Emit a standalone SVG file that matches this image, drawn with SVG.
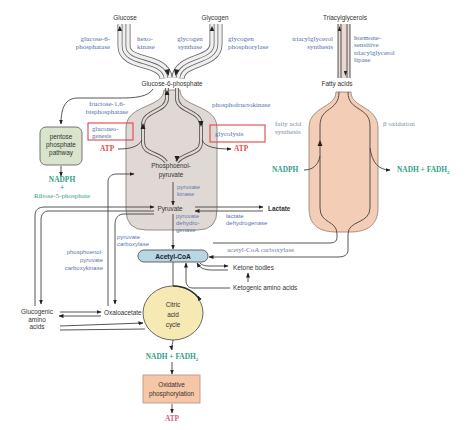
<svg xmlns="http://www.w3.org/2000/svg" width="474" height="430" viewBox="0 0 474 430">
<style>
.t{font-family:"Liberation Sans",Arial,sans-serif;font-size:6.4px;fill:#333}
.b{font-family:"Liberation Serif","Times New Roman",serif;font-size:7px;fill:#4f6fa8}
.bs{font-family:"Liberation Sans",Arial,sans-serif;font-size:6px;fill:#5a78b0}
.g{font-family:"Liberation Serif","Times New Roman",serif;font-size:7.4px;fill:#2f9f86;font-weight:bold}
.r{font-family:"Liberation Serif","Times New Roman",serif;font-size:7.4px;fill:#e0504a;font-weight:bold}
.ln{fill:none;stroke:#444;stroke-width:0.9}
.to{fill:none;stroke:#555;stroke-width:4}
.ti{fill:none;stroke:#e0d8d4;stroke-width:2.3}
.ah{fill:#222}
</style>
<defs>
<marker id="a" viewBox="0 0 10 10" refX="9" refY="5" markerWidth="5" markerHeight="5" markerUnits="userSpaceOnUse" orient="auto"><path d="M0,1 L10,5 L0,9 z" fill="#222"/></marker>
</defs>

<g id="glucose-channel">
<path d="M124,24 L124,46 C124,66 164,58 166,78" fill="none" stroke="#666" stroke-width="13"/>
<path d="M124,24 L124,46 C124,66 164,58 166,78" fill="none" stroke="#efefef" stroke-width="11.4"/>
<path d="M124,24 L124,46 C124,66 164,58 166,78" fill="none" stroke="#666" stroke-width="4.6"/>
<path d="M124,24 L124,46 C124,66 164,58 166,78" fill="none" stroke="#efefef" stroke-width="3"/>
<path class="ah" d="M117.5,31 L119.8,26 L122.1,31 z"/>
</g>
<g id="glycogen-channel">
<path d="M216,24 L216,44 C216,64 180,58 178,78" fill="none" stroke="#666" stroke-width="13"/>
<path d="M216,24 L216,44 C216,64 180,58 178,78" fill="none" stroke="#efefef" stroke-width="11.4"/>
<path d="M216,24 L216,44 C216,64 180,58 178,78" fill="none" stroke="#666" stroke-width="4.6"/>
<path d="M216,24 L216,44 C216,64 180,58 178,78" fill="none" stroke="#efefef" stroke-width="3"/>
<path class="ah" d="M209.7,31 L212,26 L214.3,31 z"/>
<path class="ah" d="M164.5,70 L168.5,76 L170,69 z"/>
<path class="ah" d="M174,69 L175.5,76 L179.5,70 z"/>
</g>
<g id="tag-channel">
<rect x="338" y="24" width="12" height="54" fill="#ead9d0"/>
<path d="M338,24 V78 M341,24 V78 M347,24 V78 M350,24 V78" class="ln" stroke="#666"/>
<path class="ah" d="M337.8,31 L339.5,26 L341.2,31 z"/>
<path class="ah" d="M343.8,71 L345.5,76 L347.2,71 z"/>
</g>

<g id="glycolysis-body">
<path d="M164,90 C164,108 126,104 126,128 L126,210 Q126,230 146,230 L198,230 Q217,230 217,210 L217,128 C217,104 180,108 180,90 Z" fill="#e0d8d4" stroke="#8a8380" stroke-width="0.9"/>
<path class="to" d="M167,88 L167,98 C167,112 143,110 143,125 L143,142 C143,155 160,152 166,162"/>
<path class="ti" d="M167,88 L167,98 C167,112 143,110 143,125 L143,142 C143,155 160,152 166,162"/>
<path class="to" d="M177,88 L177,98 C177,112 201,110 201,125 L201,142 C201,155 184,152 177,162"/>
<path class="ti" d="M177,88 L177,98 C177,112 201,110 201,125 L201,142 C201,155 184,152 177,162"/>
<path class="ah" d="M140.5,129 L143,123 L145.5,129 z"/>
<path class="ah" d="M198.5,121 L201,127 L203.5,121 z"/>
<path class="ah" d="M164.5,95 L167,90 L169.5,95 z"/>
<path class="ah" d="M174.5,156 L177,162 L179.5,156 z"/>
</g>

<g id="fatty-acid-body">
<path d="M336,92 C336,108 309,106 309,128 L309,208 C309,226 320,232 337,232 L350,232 C366,232 378,226 378,208 L378,128 C378,106 351,108 351,92 Z" fill="#f3cdb6" stroke="#9a8a80" stroke-width="0.9"/>
<path d="M339,92 C339,112 320,106 320,126 L320,208 C320,224 337,220 337,234 L337,237 C337,242 334,243 328,243 L213,243" class="ln"/>
<path d="M348,92 C348,112 370,106 370,126 L370,208 C370,224 348,220 348,234 L348,250 C348,255 344,257 338,257 L209,257" class="ln" marker-end="url(#a)"/>
<path class="ah" d="M317.5,146 L320,140 L322.5,146 z"/>
<path d="M304,170 C312,170 318,166 320,156" class="ln"/>
<path d="M370,148 C372,162 378,170 390,170" class="ln" marker-end="url(#a)"/>
</g>

<g id="pentose">
<rect x="40" y="127" width="42" height="38" rx="6" fill="#d8e4cb" stroke="#666" stroke-width="0.9"/>
<text class="t" x="61" y="139" text-anchor="middle">pentose</text>
<text class="t" x="61" y="147" text-anchor="middle">phosphate</text>
<text class="t" x="61" y="155" text-anchor="middle">pathway</text>
</g>

<g id="gluconeogenesis-box">
<rect x="88" y="123" width="45" height="17" fill="none" stroke="#e04848" stroke-width="1.1"/>
<text class="b" x="92" y="130.5" style="font-size:6.6px">gluconeo-</text>
<text class="b" x="92" y="137.5" style="font-size:6.6px">genesis</text>
</g>
<g id="glycolysis-box">
<rect x="210" y="125" width="55" height="17" fill="none" stroke="#e04848" stroke-width="1.1"/>
<text class="b" x="215" y="136">glycolysis</text>
</g>

<g id="acetyl-coa">
<rect x="138" y="250" width="70" height="12" rx="6" fill="#b8d6e4" stroke="#555" stroke-width="0.9"/>
<text x="173" y="258.5" text-anchor="middle" style="font-family:'Liberation Sans',Arial,sans-serif;font-size:6.6px;font-weight:bold;fill:#222">Acetyl-CoA</text>
</g>

<g id="citric-cycle">
<ellipse cx="173" cy="313" rx="30" ry="27" fill="#f6e9b3" stroke="#666" stroke-width="1"/>
<path d="M173,286 A30,27 0 0 1 200,300" fill="none" stroke="#333" stroke-width="1.3"/>
<text class="t" x="173" y="307" text-anchor="middle">Citric</text>
<text class="t" x="173" y="317" text-anchor="middle">acid</text>
<text class="t" x="173" y="327" text-anchor="middle">cycle</text>
</g>

<g id="oxphos">
<rect x="143" y="375" width="57" height="28" fill="#f5c7a6" stroke="#b99a86" stroke-width="0.9"/>
<text class="t" x="171.5" y="387" text-anchor="middle">Oxidative</text>
<text class="t" x="171.5" y="396" text-anchor="middle">phosphorylation</text>
</g>

<g id="connectors">
<path d="M153,89 C148,97 135,98 120,98 L78,98 C65,98 61,108 61,124" class="ln" marker-end="url(#a)"/>
<path d="M61,166 L61,176" class="ln" marker-end="url(#a)"/>
<path d="M118,149 C130,149 138,147 142,140" class="ln"/>
<path d="M202,140 C205,147 215,149 231,149" class="ln" marker-end="url(#a)"/>
<path d="M173,182 L173,205" class="ln" marker-end="url(#a)"/>
<path d="M195,207 L263,207" class="ln" marker-end="url(#a)"/>
<path d="M263,211 L195,211" class="ln" marker-end="url(#a)"/>
<path d="M173,214 L173,249" class="ln" marker-end="url(#a)"/>
<path d="M35,306 L35,216 C35,210 38,207 45,207 L154,207" class="ln" marker-end="url(#a)"/>
<path d="M154,211 L49,211 C44,211 41,214 41,220 L41,304" class="ln" marker-end="url(#a)"/>
<path d="M154,214 L124,214 C118,214 115,218 115,225 L115,304" class="ln" marker-end="url(#a)"/>
<path d="M108,306 L108,182 C108,177 111,174 117,174 L134,174" class="ln" marker-end="url(#a)"/>
<path d="M60,312 L101,312" class="ln" marker-end="url(#a)"/>
<path d="M101,316 L59,316" class="ln" marker-end="url(#a)"/>
<path d="M60,326 L143,323" class="ln" marker-end="url(#a)"/>
<path d="M145,329 L60,330" class="ln"/>
<path d="M173,262 L173,286" class="ln"/>
<path d="M200,300 L198,296" class="ln" marker-end="url(#a)"/>
<path d="M200,263 C203,266 206,266 212,266 L228,266" class="ln" marker-end="url(#a)"/>
<path d="M228,270 L212,270 C204,270 200,268 197,263" class="ln" marker-end="url(#a)"/>
<path d="M248,282 L248,273" class="ln" marker-end="url(#a)"/>
<path d="M230,288 L193,288 C188,288 186,285 186,280 L186,263" class="ln" marker-end="url(#a)"/>
<path d="M173,340 C173,344 171,345 172,350" class="ln" marker-end="url(#a)"/>
<path d="M172,362 L172,374" class="ln" marker-end="url(#a)"/>
<path d="M172,404 L172,413" class="ln" marker-end="url(#a)"/>
</g>

<g id="labels">
<text class="t" x="125" y="20" text-anchor="middle">Glucose</text>
<text class="t" x="215" y="20" text-anchor="middle">Glycogen</text>
<text class="t" x="345" y="20" text-anchor="middle">Triacylglycerols</text>
<text class="b" x="110" y="41" text-anchor="end">glucose-6-</text>
<text class="b" x="110" y="48.5" text-anchor="end">phosphatase</text>
<text class="b" x="137" y="41">hexo-</text>
<text class="b" x="137" y="48.5">kinase</text>
<text class="b" x="190" y="41" text-anchor="middle">glycogen</text>
<text class="b" x="190" y="48.5" text-anchor="middle">synthase</text>
<text class="b" x="228" y="41">glycogen</text>
<text class="b" x="228" y="48.5">phosphorylase</text>
<text class="b" x="333" y="41" text-anchor="end">triacylglycerol</text>
<text class="b" x="333" y="48.5" text-anchor="end">synthesis</text>
<text class="b" x="354" y="40">hormone-</text>
<text class="b" x="354" y="47.3">sensitive</text>
<text class="b" x="354" y="54.6">triacylglycerol</text>
<text class="b" x="354" y="62">lipase</text>
<text class="t" x="172" y="86" text-anchor="middle">Glucose-6-phosphate</text>
<text class="t" x="337" y="86" text-anchor="middle">Fatty acids</text>
<text class="b" x="107" y="105.5" text-anchor="middle">fructose-1,6-</text>
<text class="b" x="107" y="113.5" text-anchor="middle">bisphosphatase</text>
<text class="b" x="212" y="107">phosphofructokinase</text>
<text class="b" x="275" y="126" style="fill:#8090a8">fatty acid</text>
<text class="b" x="275" y="133.5" style="fill:#8090a8">synthesis</text>
<text class="b" x="383" y="126" style="fill:#8090a8">β oxidation</text>
<text class="r" x="100" y="151">ATP</text>
<text class="r" x="234" y="151">ATP</text>
<text class="g" x="62" y="182" text-anchor="middle">NADPH</text>
<text class="g" x="62" y="190" text-anchor="middle">+</text>
<text class="g" x="62" y="198" text-anchor="middle" style="font-weight:normal;font-size:7px">Ribose-5-phosphate</text>
<text class="g" x="272" y="172">NADPH</text>
<text class="g" x="397" y="172">NADH + FADH<tspan font-size="5" dy="1.5">2</tspan></text>
<text class="t" x="171" y="168" text-anchor="middle">Phosphoenol-</text>
<text class="t" x="171" y="177" text-anchor="middle">pyruvate</text>
<text class="bs" x="177" y="189">pyruvate</text>
<text class="bs" x="177" y="196">kinase</text>
<text class="t" x="170" y="211" text-anchor="middle">Pyruvate</text>
<text class="t" x="268" y="211" style="font-weight:bold">Lactate</text>
<text class="bs" x="176" y="218">pyruvate</text>
<text class="bs" x="176" y="225">dehydro-</text>
<text class="bs" x="176" y="232">genase</text>
<text class="bs" x="226" y="218">lactate</text>
<text class="bs" x="226" y="225">dehydrogenase</text>
<text class="bs" x="117" y="239">pyruvate</text>
<text class="bs" x="117" y="246">carboxylase</text>
<text class="b" x="227" y="252" style="fill:#6a80a8">acetyl-CoA carboxylase</text>
<text class="bs" x="103" y="254" text-anchor="end">phosphoenol-</text>
<text class="bs" x="103" y="262" text-anchor="end">pyruvate</text>
<text class="bs" x="103" y="270" text-anchor="end">carboxykinase</text>
<text class="t" x="233" y="270">Ketone bodies</text>
<text class="t" x="233" y="290">Ketogenic amino acids</text>
<text class="t" x="37" y="314" text-anchor="middle">Glucogenic</text>
<text class="t" x="37" y="321.5" text-anchor="middle">amino</text>
<text class="t" x="37" y="329" text-anchor="middle">acids</text>
<text class="t" x="104" y="315">Oxaloacetate</text>
<text class="g" x="172" y="359" text-anchor="middle">NADH + FADH<tspan font-size="5" dy="1.5">2</tspan></text>
<text class="r" x="172" y="421" text-anchor="middle" style="fill:#e0607a">ATP</text>
</g>
</svg>
